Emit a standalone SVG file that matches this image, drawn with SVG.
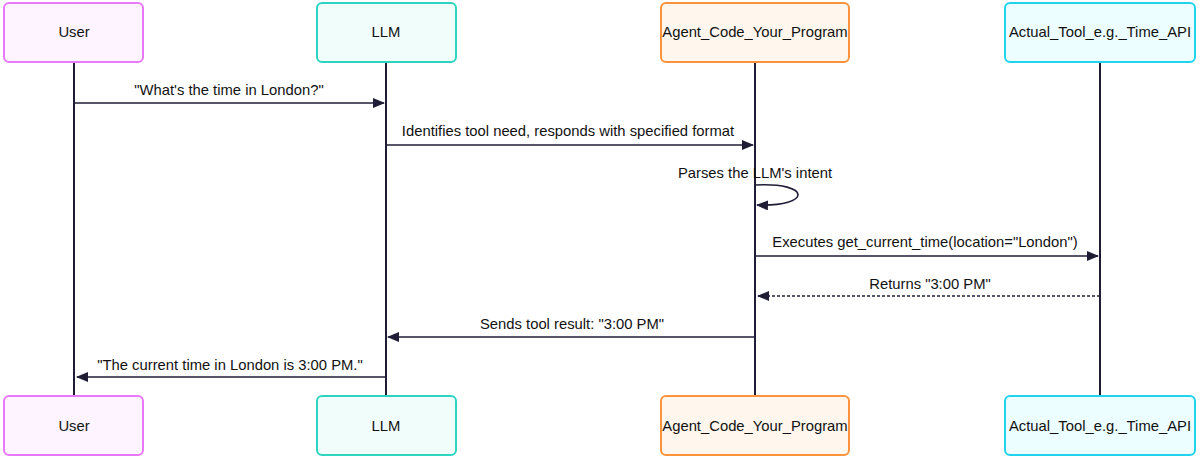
<svg xmlns="http://www.w3.org/2000/svg" width="1200" height="459" viewBox="0 0 1200 459">
<style>
text{font-family:"Liberation Sans",Arial,sans-serif;font-size:14.8px;fill:#111;text-anchor:middle}
.b{stroke-width:2}
.life{stroke:#1f1d36;stroke-width:2}
.m{stroke:#1f1d36;stroke-width:1.6;fill:none;marker-end:url(#ah)}
</style>
<defs><marker id="ah" markerWidth="12" markerHeight="10" refX="11" refY="5" orient="auto" markerUnits="userSpaceOnUse"><path d="M0,0L12,5L0,10z" fill="#1f1d36"/></marker></defs>
<g id="lifelines">
<line class="life" x1="74" y1="62" x2="74" y2="396"/>
<line class="life" x1="386" y1="62" x2="386" y2="396"/>
<line class="life" x1="755" y1="62" x2="755" y2="396"/>
<line class="life" x1="1100" y1="62" x2="1100" y2="396"/>
</g>
<g id="user"><rect class="b" x="4" y="3" width="139" height="59" rx="5" fill="#fdf4ff" stroke="#e879f9"/><text x="74" y="37">User</text>
<rect class="b" x="4" y="396" width="139" height="59" rx="5" fill="#fdf4ff" stroke="#e879f9"/><text x="74" y="431">User</text></g>
<g id="llm"><rect class="b" x="317" y="3" width="139" height="59" rx="5" fill="#f0fdfa" stroke="#2dd4bf"/><text x="386" y="37">LLM</text>
<rect class="b" x="317" y="396" width="139" height="59" rx="5" fill="#f0fdfa" stroke="#2dd4bf"/><text x="386" y="431">LLM</text></g>
<g id="agent"><rect class="b" x="661" y="3" width="188" height="59" rx="5" fill="#fff7ed" stroke="#fb923c"/><text x="755" y="37">Agent_Code_Your_Program</text>
<rect class="b" x="661" y="396" width="188" height="59" rx="5" fill="#fff7ed" stroke="#fb923c"/><text x="755" y="431">Agent_Code_Your_Program</text></g>
<g id="tool"><rect class="b" x="1005" y="3" width="190" height="59" rx="5" fill="#ecfeff" stroke="#22d3ee"/><text x="1100" y="37">Actual_Tool_e.g._Time_API</text>
<rect class="b" x="1005" y="396" width="190" height="59" rx="5" fill="#ecfeff" stroke="#22d3ee"/><text x="1100" y="431">Actual_Tool_e.g._Time_API</text></g>
<g id="connectors">
<path class="m" d="M74,103H384"/><text x="229" y="95">"What's the time in London?"</text>
<path class="m" d="M386,145H753"/><text x="568" y="136">Identifies tool need, responds with specified format</text>
<text x="755" y="178">Parses the LLM's intent</text>
<path class="m" d="M755,185C812,182 812,207 757,205"/>
<path class="m" d="M755,256H1098"/><text x="925" y="247">Executes get_current_time(location="London")</text>
<path class="m" d="M1100,296H758" stroke-dasharray="3,2"/><text x="930" y="289">Returns "3:00 PM"</text>
<path class="m" d="M755,337H388"/><text x="572" y="329">Sends tool result: "3:00 PM"</text>
<path class="m" d="M386,377H77"/><text x="230" y="370">"The current time in London is 3:00 PM."</text>
</g>
</svg>
